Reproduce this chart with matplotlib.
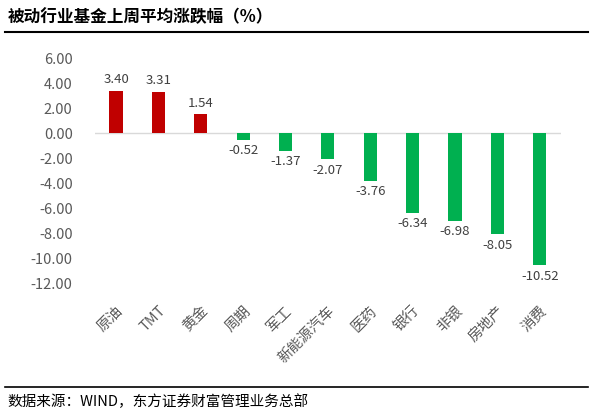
import matplotlib
matplotlib.use('Agg')
import matplotlib.pyplot as plt

plt.rcParams['font.family'] = ['Noto Sans CJK SC', 'DejaVu Sans']

# data
categories = ['原油', 'TMT', '黄金', '周期', '军工', '新能源汽车', '医药', '银行', '非银', '房地产', '消费']
values = [3.40, 3.31, 1.54, -0.52, -1.37, -2.07, -3.76, -6.34, -6.98, -8.05, -10.52]
yticks = [6, 4, 2, 0, -2, -4, -6, -8, -10, -12]

title = '被动行业基金上周平均涨跌幅（%）'
source = '数据来源：WIND，东方证券财富管理业务总部'

fig = plt.figure(figsize=(5.93, 4.15), dpi=100)
ax = fig.add_axes([0.160, 0.3157, 0.786, 0.5443])

colors = ['#C00000' if v >= 0 else '#00B050' for v in values]
x = range(len(categories))
bars = ax.bar(x, values, width=0.31, color=colors, zorder=2)

# value labels
for i, v in enumerate(values):
    off = 0.35 if v >= 0 else -0.35
    ax.text(i, v + off, f'{v:.2f}', ha='center', va='bottom' if v >= 0 else 'top',
            fontsize=9.5, color='#404040')

ax.axhline(0, color='#D9D9D9', lw=1, zorder=1)
ax.set_xlim(-0.5, len(categories) - 0.5)
ax.set_ylim(-12, 6)
ax.set_yticks(yticks)
ax.set_yticklabels([f'{t:.2f}' for t in yticks], fontsize=10.5, color='#595959')
ax.tick_params(axis='y', length=0, pad=16)
ax.set_xticks(list(x))
ax.set_xticklabels(categories, rotation=45, ha='right', rotation_mode='anchor',
                   fontsize=10.5, color='#595959')
ax.tick_params(axis='x', length=0, pad=14)
for s in ax.spines.values():
    s.set_visible(False)

# title and source with separator lines
fig.text(0.013, 0.958, title, fontsize=12, fontweight='bold', color='black', va='center')
fig.add_artist(plt.Line2D([0.008, 0.992], [0.922, 0.922], color='black', lw=1.5))
fig.add_artist(plt.Line2D([0.008, 0.992], [0.068, 0.068], color='black', lw=1.2))
fig.text(0.013, 0.032, source, fontsize=10.5, color='black', va='center')

fig.savefig('out.png', dpi=100)
